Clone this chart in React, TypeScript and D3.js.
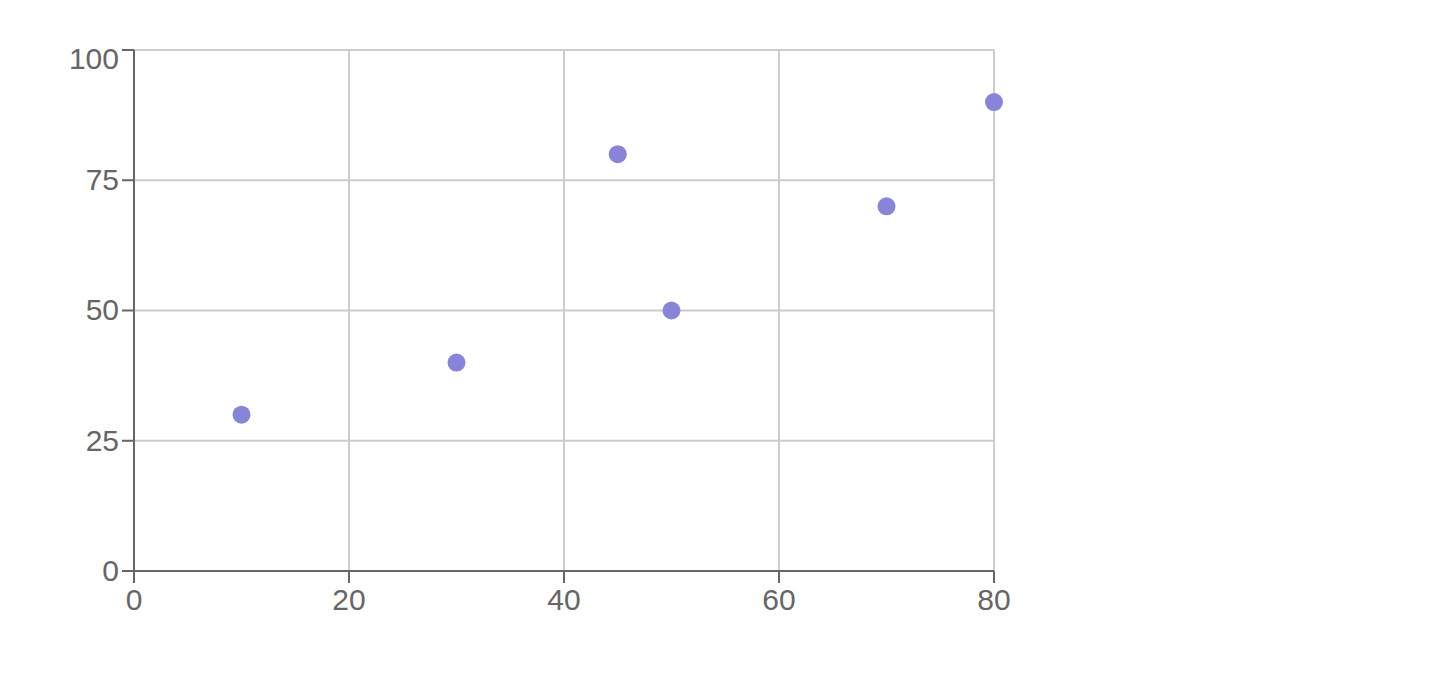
import React from "react";
import * as d3 from "d3";

const xValues = [10, 30, 45, 50, 70, 80];
const yValues = [30, 40, 80, 50, 70, 90];
const xTicks = [0, 20, 40, 60, 80];
const yTicks = [0, 25, 50, 75, 100];

const W = 1436;
const H = 680;
const left = 134;
const right = 994;
const top = 50;
const bottom = 571;
const axisColor = "#666";
const gridColor = "#ccc";
const dotColor = "#8884d8";
const font = "'Liberation Sans', Arial, Helvetica, sans-serif";

export default function App() {
  const x = d3.scaleLinear().domain([0, 80]).range([left, right]);
  const y = d3.scaleLinear().domain([0, 100]).range([bottom, top]);
  const points = xValues.map((v, i) => ({ x: v, y: yValues[i] }));

  return (
    <svg
      width={W}
      height={H}
      style={{ position: "absolute", left: 0, top: 0, background: "#fff" }}
      fontFamily={font}
    >
      <g>
        {yTicks.map((t) => (
          <line key={"gy" + t} x1={left} x2={right} y1={y(t)} y2={y(t)} stroke={gridColor} strokeWidth={2} />
        ))}
        {xTicks.map((t) => (
          <line key={"gx" + t} x1={x(t)} x2={x(t)} y1={top} y2={bottom} stroke={gridColor} strokeWidth={2} />
        ))}
      </g>
      {/* Y axis */}
      <g>
        <line x1={left} x2={left} y1={top} y2={bottom} stroke={axisColor} strokeWidth={2} />
        {yTicks.map((t, i) => (
          <g key={"yt" + t}>
            <line x1={left - 12} x2={left} y1={y(t)} y2={y(t)} stroke={axisColor} strokeWidth={2} />
            <text
              x={left - 15}
              y={y(t) + (i === yTicks.length - 1 ? 8 : -1)}
              dy="0.36em"
              textAnchor="end"
              fontSize={30}
              fill={axisColor}
            >
              {t}
            </text>
          </g>
        ))}
      </g>
      {/* X axis */}
      <g>
        <line x1={left} x2={right} y1={bottom} y2={bottom} stroke={axisColor} strokeWidth={2} />
        {xTicks.map((t) => (
          <g key={"xt" + t}>
            <line x1={x(t)} x2={x(t)} y1={bottom} y2={bottom + 12} stroke={axisColor} strokeWidth={2} />
            <text x={x(t)} y={610} textAnchor="middle" fontSize={30} fill={axisColor}>
              {t}
            </text>
          </g>
        ))}
      </g>
      <g>
        {points.map((p, i) => (
          <circle key={i} cx={x(p.x)} cy={y(p.y)} r={9} fill={dotColor} />
        ))}
      </g>
    </svg>
  );
}
